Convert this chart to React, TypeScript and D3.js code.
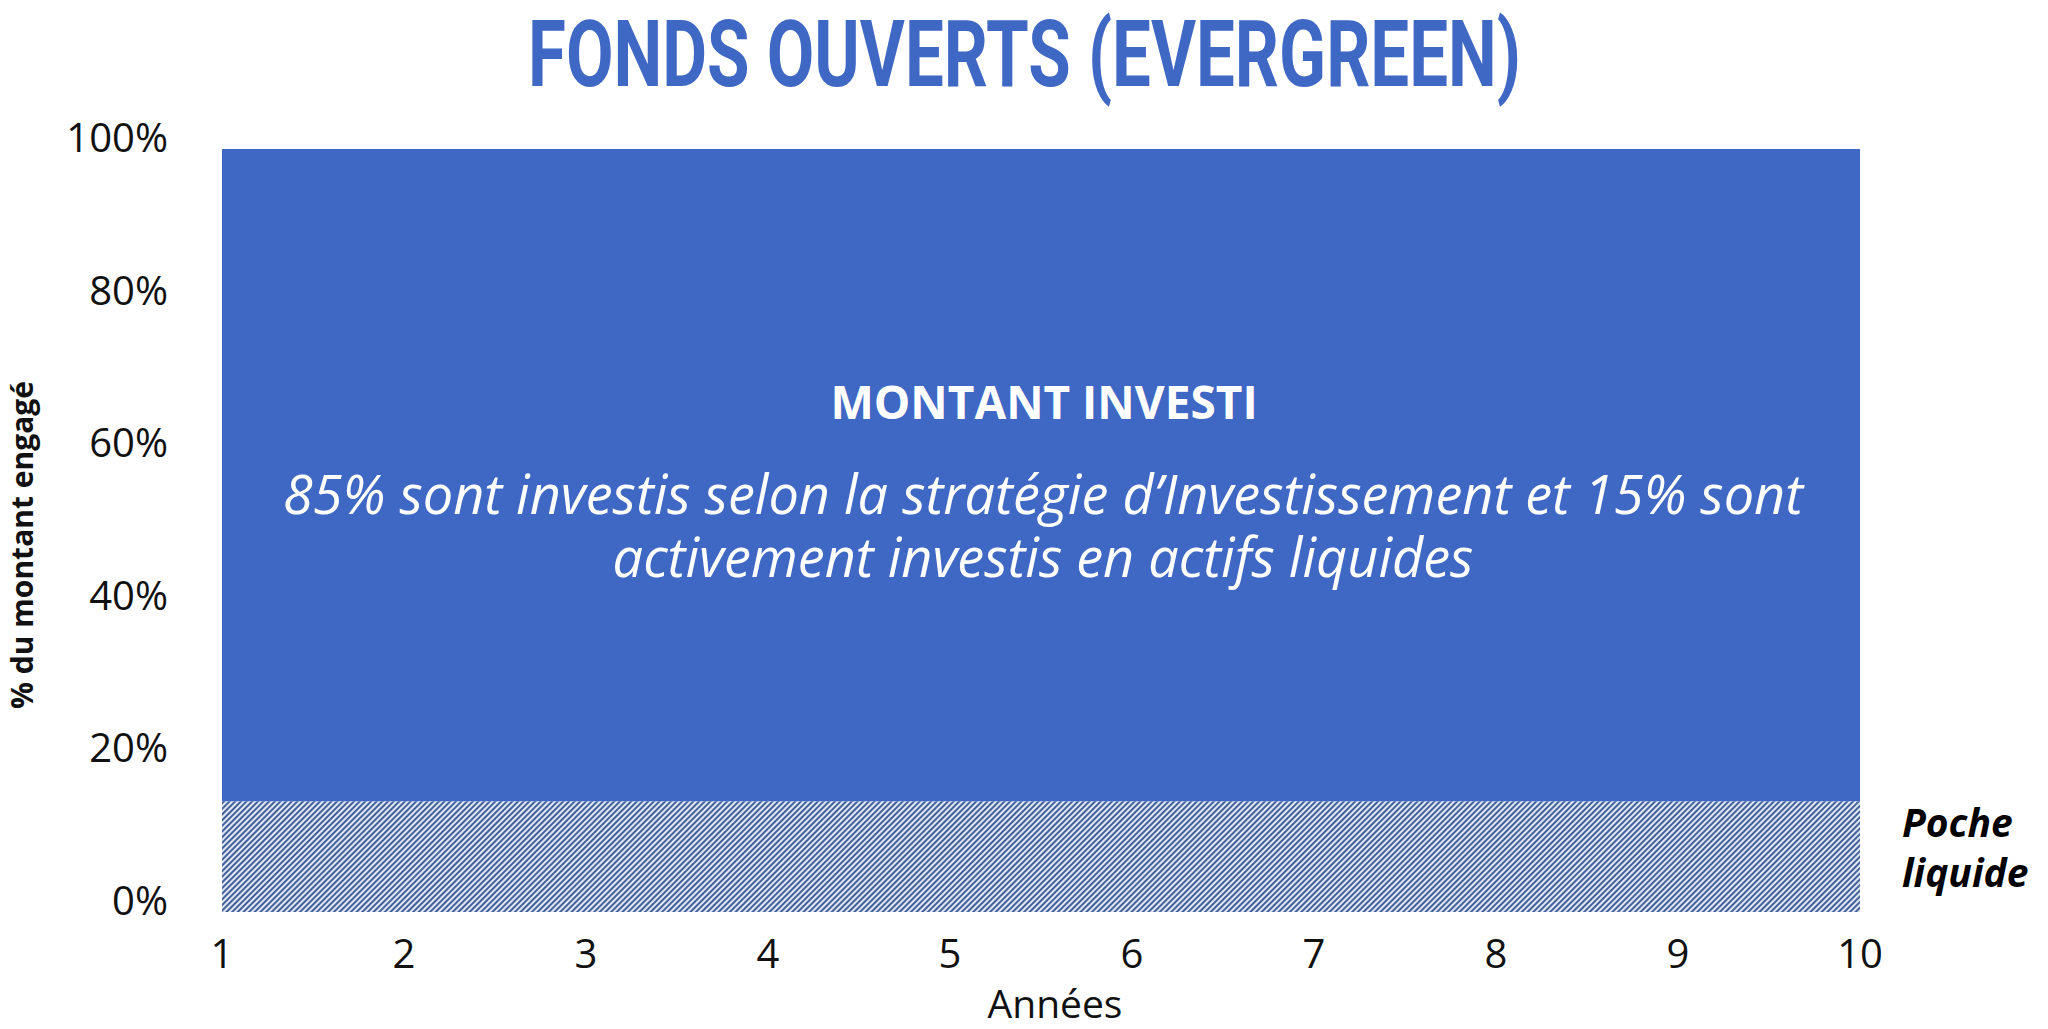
import React from 'react';
import * as d3 from 'd3';

const years = [1, 2, 3, 4, 5, 6, 7, 8, 9, 10];
const liquidPocket = [14.5, 14.5, 14.5, 14.5, 14.5, 14.5, 14.5, 14.5, 14.5, 14.5];
const investedAmount = [85.5, 85.5, 85.5, 85.5, 85.5, 85.5, 85.5, 85.5, 85.5, 85.5];
const yTicks = [0, 20, 40, 60, 80, 100];

const title = 'FONDS OUVERTS (EVERGREEN)';
const yTitle = '% du montant engagé';
const xTitle = 'Années';
const areaTitle = 'MONTANT INVESTI';
const areaLines = [
  '85% sont investis selon la stratégie d’Investissement et 15% sont',
  'activement investis en actifs liquides',
];
const pocketLines = ['Poche', 'liquide'];

const BLUE = '#3f67c4';
const FONT = '"Open Sans", "Noto Sans", sans-serif';

const width = 2048;
const height = 1029;
const margin = { left: 222, right: 188, top: 149, bottom: 117 };

const App: React.FC = () => {
  const svgRef = React.useRef<SVGSVGElement>(null);

  React.useEffect(() => {
    const svg = d3.select(svgRef.current);
    svg.selectAll('*').remove();

    const x = d3.scaleLinear().domain([1, 10]).range([margin.left, width - margin.right]);
    const y = d3.scaleLinear().domain([0, 100]).range([height - margin.bottom, margin.top]);

    const rows = years.map((yr, i) => ({ year: yr, liquid: liquidPocket[i], invested: investedAmount[i] }));
    const stacked = d3.stack<any>().keys(['liquid', 'invested'])(rows);

    // diagonal hatch for the liquid pocket
    const defs = svg.append('defs');
    const pattern = defs.append('pattern')
      .attr('id', 'hatch')
      .attr('patternUnits', 'userSpaceOnUse')
      .attr('width', 4)
      .attr('height', 4)
      .attr('patternTransform', 'rotate(45)');
    pattern.append('rect').attr('width', 4).attr('height', 4).attr('fill', '#dfe7f5');
    pattern.append('line')
      .attr('x1', 1).attr('y1', 0).attr('x2', 1).attr('y2', 4)
      .attr('stroke', '#34528f')
      .attr('stroke-width', 1.8);

    const area = d3.area<any>()
      .x((d) => x(d.data.year))
      .y0((d) => y(d[0]))
      .y1((d) => y(d[1]));

    svg.append('g')
      .selectAll('path')
      .data(stacked)
      .join('path')
        .attr('d', area as any)
        .attr('fill', (d) => (d.key === 'liquid' ? 'url(#hatch)' : BLUE));

    // title
    svg.append('text')
      .attr('x', 528)
      .attr('y', 86)
      .attr('textLength', 993)
      .attr('lengthAdjust', 'spacingAndGlyphs')
      .attr('font-family', 'Roboto, sans-serif')
      .attr('font-weight', 700)
      .attr('font-size', 92)
      .attr('fill', BLUE)
      .text(title);

    // y axis labels
    svg.append('g')
      .selectAll('text')
      .data(yTicks)
      .join('text')
        .attr('x', 168)
        .attr('y', (d) => y(d) + 3)
        .attr('text-anchor', 'end')
        .attr('font-family', FONT)
        .attr('font-size', 40)
        .attr('fill', '#111')
        .text((d) => `${d}%`);

    // x axis labels
    svg.append('g')
      .selectAll('text')
      .data(years)
      .join('text')
        .attr('x', (d) => x(d))
        .attr('y', 968)
        .attr('text-anchor', 'middle')
        .attr('font-family', FONT)
        .attr('font-size', 40)
        .attr('fill', '#111')
        .text((d) => d);

    svg.append('text')
      .attr('x', 1055)
      .attr('y', 1018)
      .attr('text-anchor', 'middle')
      .attr('font-family', FONT)
      .attr('font-size', 39)
      .attr('fill', '#111')
      .text(xTitle);

    svg.append('text')
      .attr('transform', `translate(33, 545) rotate(-90)`)
      .attr('text-anchor', 'middle')
      .attr('font-family', FONT)
      .attr('font-weight', 700)
      .attr('font-size', 30)
      .attr('fill', '#111')
      .text(yTitle);

    // labels inside the invested area
    const cx = (x(1) + x(10)) / 2;
    svg.append('text')
      .attr('x', cx + 3)
      .attr('y', 419)
      .attr('text-anchor', 'middle')
      .attr('font-family', FONT)
      .attr('font-weight', 700)
      .attr('font-size', 46)
      .attr('fill', '#fff')
      .text(areaTitle);

    svg.append('g')
      .selectAll('text')
      .data(areaLines)
      .join('text')
        .attr('x', cx + 2)
        .attr('y', (_, i) => 514 + i * 63)
        .attr('text-anchor', 'middle')
        .attr('font-family', FONT)
        .attr('font-style', 'italic')
        .attr('font-size', 54)
        .attr('fill', '#fff')
        .text((d) => d);

    svg.append('g')
      .selectAll('text')
      .data(pocketLines)
      .join('text')
        .attr('x', 1902)
        .attr('y', (_, i) => 837 + i * 50)
        .attr('font-family', FONT)
        .attr('font-weight', 700)
        .attr('font-style', 'italic')
        .attr('font-size', 39)
        .attr('fill', '#000')
        .text((d) => d);
  }, []);

  return (
    <svg
      ref={svgRef}
      width={width}
      height={height}
      style={{ position: 'absolute', left: 0, top: 0, background: '#fff' }}
    />
  );
};

export default App;
